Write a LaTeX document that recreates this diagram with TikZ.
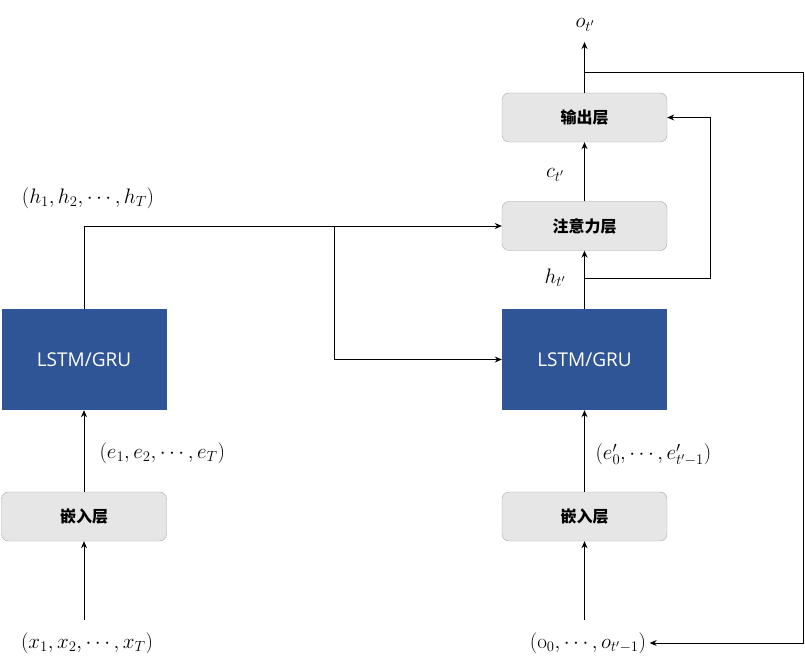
\documentclass[tikz,border=0pt]{standalone}
\usepackage{fix-cm}
\usepackage{fontspec}
\newfontfamily\cjk{Noto Sans CJK SC}
\newfontfamily\sans{Open Sans}
\usetikzlibrary{arrows.meta}
\begin{document}
\begin{tikzpicture}[x=1pt,y=-1pt,
  lstm/.style={draw=none,fill=lstmblue,minimum width=165pt,minimum height=101pt,text=white,font=\sans\fontsize{19}{19}\selectfont},
  layer/.style={draw=gray!70,rounded corners=7pt,fill=boxgray,minimum width=165pt,minimum height=49pt,font=\cjk\bfseries\fontsize{16}{16}\selectfont},
  arr/.style={-{Stealth[length=7pt,width=6pt]},line width=0.9pt},
  ln/.style={line width=0.9pt},
  lab/.style={font=\fontsize{21}{21}\selectfont}]
\definecolor{lstmblue}{HTML}{2F5597}
\definecolor{boxgray}{HTML}{E7E6E6}
\useasboundingbox (0,0) rectangle (805,668);
\node[lstm] (l1) at (84,359.5) {LSTM/GRU};
\node[lstm] (l2) at (584.5,359.5) {LSTM/GRU};
\node[layer] (e1) at (84,516.5) {嵌入层};
\node[layer] (e2) at (584.5,516.5) {嵌入层};
\node[layer] (att) at (584.5,226) {注意力层};
\node[layer] (out) at (584.5,117.5) {输出层};
\node[lab] (x) at (87,643) {$(x_1,x_2,\cdots,x_T)$};
\node[lab] (o) at (588,643) {$(\mathrm{o}_0,\cdots,o_{t'-1})$};
\node[lab,anchor=west] (el) at (96,453) {$(e_1,e_2,\cdots,e_T)$};
\node[lab,anchor=west] (er) at (592,455) {$(e'_0,\cdots,e'_{t'-1})$};
\node[lab] (hl) at (88,198) {$(h_1,h_2,\cdots,h_T)$};
\node[lab] (ht) at (555,278) {$h_{t'}$};
\node[lab] (ct) at (555,175) {$c_{t'}$};
\node[lab] (ot) at (585,25) {$o_{t'}$};
\coordinate (lt) at (84,226);
\coordinate (mid) at (334,226);
\coordinate (hb) at (584.5,278);
\coordinate (ob) at (584.5,72);
\draw[arr] (84,620) -- (e1.south);
\draw[arr] (e1.north) -- (l1.south);
\draw[ln] (l1.north) -- (lt) -- (mid);
\draw[arr] (mid) -- (att.west);
\draw[arr] (mid) |- (l2.west);
\draw[arr] (584.5,620) -- (e2.south);
\draw[arr] (e2.north) -- (l2.south);
\draw[arr] (l2.north) -- (att.south);
\draw[arr] (hb) -| (710,117.5) -- (out.east);
\draw[arr] (att.north) -- (out.south);
\draw[arr] (out.north) -- (584.5,42);
\draw[arr] (ob) -| (803,643) -- (o.east);
\end{tikzpicture}
\end{document}
